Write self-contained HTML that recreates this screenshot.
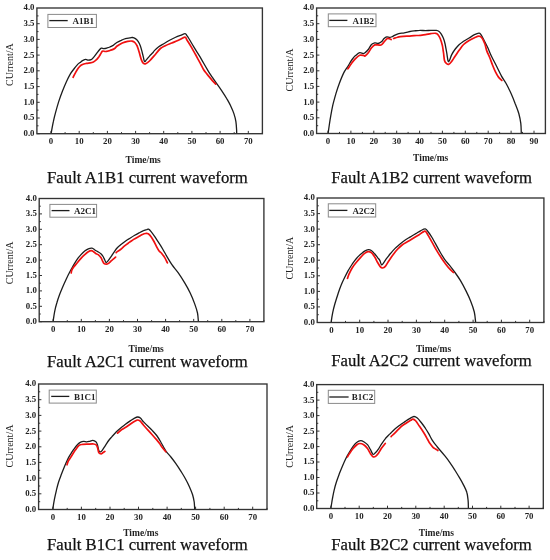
<!DOCTYPE html><html><head><meta charset="utf-8"><title>Fault current waveforms</title><style>
html,body{margin:0;padding:0;background:#fff;width:550px;height:560px;overflow:hidden}
svg{display:block}
.tl{font-family:"Liberation Serif",serif;font-weight:bold;font-size:8.8px;fill:#222}
.ax{stroke:#333;stroke-width:1.35;fill:none}
.tk{stroke:#333;stroke-width:1;fill:none}
.bk{stroke:#1c1c1c;stroke-width:1.3;fill:none;stroke-linejoin:round;stroke-linecap:round}
.rd{stroke:#f01010;stroke-width:1.7;fill:none;stroke-linejoin:round;stroke-linecap:round}
.cap{font-family:"Liberation Serif",serif;font-size:16.7px;fill:#111;stroke:#111;stroke-width:0.25px}
.xl{font-family:"Liberation Serif",serif;font-weight:bold;font-size:9.5px;fill:#222}
.yl{font-family:"Liberation Serif",serif;font-size:10px;fill:#222}
.lg{font-family:"Liberation Serif",serif;font-weight:bold;font-size:9px;fill:#222}
</style></head><body>
<svg width="550" height="560" viewBox="0 0 550 560">
<path class="tk" d="M51 133.7V130.9M65.1 133.7V132.1M79.2 133.7V130.9M93.3 133.7V132.1M107.4 133.7V130.9M121.5 133.7V132.1M135.6 133.7V130.9M149.6 133.7V132.1M163.7 133.7V130.9M177.8 133.7V132.1M191.9 133.7V130.9M206 133.7V132.1M220.1 133.7V130.9M234.2 133.7V132.1M248.3 133.7V130.9M262.4 133.7V132.1M36.9 133.7H39.7M36.9 125.8H38.5M36.9 118H39.7M36.9 110.1H38.5M36.9 102.3H39.7M36.9 94.4H38.5M36.9 86.6H39.7M36.9 78.7H38.5M36.9 70.8H39.7M36.9 63H38.5M36.9 55.1H39.7M36.9 47.3H38.5M36.9 39.4H39.7M36.9 31.6H38.5M36.9 23.7H39.7M36.9 15.9H38.5"/>
<path class="bk" d="M51.1 133.4C51.5 131.4 52.6 124.9 53.4 121.4C54.1 117.9 54.7 115.6 55.6 112.3C56.5 109 57.6 105.1 58.7 101.6C59.9 98 61.2 94.3 62.5 91C63.8 87.7 65 84.7 66.3 81.9C67.6 79.1 68.8 76.5 70.1 74.3C71.4 72.1 72.6 70.7 73.9 69C75.2 67.3 76.7 65.5 77.7 64.4C78.7 63.3 79.2 63.2 80 62.6C80.8 62 81.5 61.2 82.5 60.7C83.5 60.2 84.7 59.5 85.7 59.4C86.7 59.3 87.4 60.2 88.3 60.2C89.2 60.2 90.1 60.2 91.1 59.7C92 59.2 93 58.1 94 56.9C95 55.7 96.4 53.8 97.2 52.7C98 51.6 98.4 51 99.1 50.2C99.8 49.4 100.5 48.4 101.3 48.1C102.1 47.8 103 48.6 103.9 48.6C104.8 48.6 105.7 48.4 106.7 48.1C107.7 47.8 108.8 47.5 109.9 47C111 46.5 111.9 46.1 113.1 45.4C114.2 44.6 115.4 43.4 116.8 42.5C118.2 41.6 119.8 40.9 121.2 40.3C122.7 39.6 124 39 125.5 38.6C127 38.2 128.7 38.1 129.9 37.9C131.1 37.7 131.7 37.4 132.6 37.5C133.5 37.6 134.5 38 135.4 38.6C136.3 39.2 137.3 40.2 138.1 41.4C138.9 42.6 139.7 44.1 140.3 45.7C140.9 47.3 141.4 49.2 141.9 51.2C142.4 53.2 143.1 56 143.5 57.7C143.9 59.4 144.1 61.1 144.6 61.5C145.1 61.9 145.5 60.8 146.3 59.9C147.1 59 148.4 57.3 149.5 56.1C150.6 54.9 152 53.7 152.8 52.8C153.6 51.9 153.4 51.6 154.4 50.6C155.4 49.6 157.1 48 158.7 46.8C160.3 45.6 162.4 44.6 164.2 43.5C166 42.4 167.8 41.3 169.6 40.3C171.4 39.3 173.3 38.3 175.1 37.5C176.9 36.7 178.8 36 180.5 35.4C182.2 34.8 184 33.6 185.1 33.7C186.2 33.8 186 34.4 187.1 35.9C188.2 37.4 190.1 40.6 191.5 43C192.9 45.4 194.4 47.7 195.8 50.1C197.2 52.5 198.8 54.8 200.2 57.2C201.6 59.6 203 62.1 204.4 64.5C205.8 66.9 207.1 69.2 208.4 71.4C209.7 73.6 211 75.3 212.4 77.4C213.8 79.5 215.5 81.9 217.1 84.1C218.7 86.3 220.2 88.4 221.8 90.8C223.4 93.2 225.1 95.7 226.5 98.2C227.9 100.7 229.3 103 230.5 105.6C231.7 108.2 233 110.9 233.9 113.6C234.8 116.3 235.5 119 235.9 121.7C236.3 124.4 236.5 127.7 236.6 129.7C236.7 131.6 236.7 132.8 236.7 133.4"/>
<path class="rd" d="M73.1 77.3C73.5 76.5 74.6 74.2 75.4 72.8C76.2 71.4 76.9 70.1 77.7 69C78.5 67.9 79.2 66.8 80 66.1C80.8 65.3 81.4 65 82.5 64.5C83.6 64 85.1 63.7 86.4 63.4C87.7 63.1 89 63.1 90.2 62.9C91.4 62.7 92.4 62.5 93.4 62C94.5 61.5 95.5 60.6 96.5 59.7C97.5 58.8 98.3 57.5 99.1 56.5C99.8 55.5 100.4 54.3 101 53.4C101.6 52.5 101.8 51.4 102.6 51.1C103.3 50.8 104.5 51.5 105.5 51.5C106.5 51.5 107.5 51.2 108.6 50.9C109.6 50.6 110.7 50.3 111.8 49.9C112.9 49.5 114.2 48.9 115 48.3C115.8 47.7 115.6 47.2 116.8 46.3C118 45.4 120.5 43.8 122.3 43C124.1 42.2 126.1 41.7 127.7 41.4C129.3 41.1 130.9 40.9 132.1 41.1C133.3 41.3 134 41.7 134.8 42.5C135.6 43.3 136.3 44.1 137 45.7C137.7 47.3 138.5 49.9 139.2 52.3C139.9 54.7 140.7 58 141.4 59.9C142.1 61.8 142.8 62.8 143.5 63.4C144.2 64 144.7 64.1 145.7 63.7C146.7 63.3 148.1 62.4 149.5 61C150.9 59.6 152.6 57.6 154.4 55.5C156.2 53.4 158.6 50.1 160.4 48.5C162.2 46.9 163.4 46.6 165.3 45.7C167.2 44.8 169.6 43.9 171.8 43C174 42.1 176.2 41.3 178.4 40.3C180.6 39.3 183.5 37.2 184.9 37.2C186.3 37.2 186 38.6 187.1 40.3C188.2 42 190.1 44.9 191.5 47.4C192.9 49.9 194.4 52.4 195.8 55C197.2 57.6 198.9 60.8 200.2 63.2C201.5 65.6 202.4 67.8 203.5 69.5C204.6 71.2 205.5 72.2 206.5 73.5C207.5 74.8 208.6 76.1 209.7 77.4C210.8 78.7 212.1 80.3 213.1 81.4C214.1 82.5 215.4 83.6 215.8 84.1"/>
<rect class="ax" x="36.9" y="8" width="225.5" height="125.7"/>
<text class="tl" x="51" y="143.7" text-anchor="middle">0</text>
<text class="tl" x="79.2" y="143.7" text-anchor="middle">10</text>
<text class="tl" x="107.4" y="143.7" text-anchor="middle">20</text>
<text class="tl" x="135.6" y="143.7" text-anchor="middle">30</text>
<text class="tl" x="163.7" y="143.7" text-anchor="middle">40</text>
<text class="tl" x="191.9" y="143.7" text-anchor="middle">50</text>
<text class="tl" x="220.1" y="143.7" text-anchor="middle">60</text>
<text class="tl" x="248.3" y="143.7" text-anchor="middle">70</text>
<text class="tl" x="34.5" y="136.1" text-anchor="end">0.0</text>
<text class="tl" x="34.5" y="120.4" text-anchor="end">0.5</text>
<text class="tl" x="34.5" y="104.7" text-anchor="end">1.0</text>
<text class="tl" x="34.5" y="89" text-anchor="end">1.5</text>
<text class="tl" x="34.5" y="73.2" text-anchor="end">2.0</text>
<text class="tl" x="34.5" y="57.5" text-anchor="end">2.5</text>
<text class="tl" x="34.5" y="41.8" text-anchor="end">3.0</text>
<text class="tl" x="34.5" y="26.1" text-anchor="end">3.5</text>
<text class="tl" x="34.5" y="10.4" text-anchor="end">4.0</text>
<text class="xl" x="143.2" y="162.8" text-anchor="middle">Time/ms</text>
<text class="yl" transform="translate(12.9 64.6) rotate(-90)" text-anchor="middle">CUrrent/A</text>
<rect x="47.9" y="14.4" width="48.5" height="13.1" fill="#fff" stroke="#8a8a8a" stroke-width="1"/>
<path d="M49.3 20.6H67.7" stroke="#1c1c1c" stroke-width="1.3"/>
<text class="lg" x="72.5" y="24">A1B1</text>
<text class="cap" x="47.1" y="182.8">Fault A1B1 current waveform</text>
<path class="tk" d="M328 133.5V130.7M339.5 133.5V131.9M350.9 133.5V130.7M362.4 133.5V131.9M373.8 133.5V130.7M385.2 133.5V131.9M396.7 133.5V130.7M408.1 133.5V131.9M419.6 133.5V130.7M431 133.5V131.9M442.4 133.5V130.7M453.9 133.5V131.9M465.3 133.5V130.7M476.8 133.5V131.9M488.2 133.5V130.7M499.6 133.5V131.9M511.1 133.5V130.7M522.5 133.5V131.9M534 133.5V130.7M545.4 133.5V131.9M316.6 133.5H319.4M316.6 125.7H318.2M316.6 117.8H319.4M316.6 110H318.2M316.6 102.1H319.4M316.6 94.3H318.2M316.6 86.4H319.4M316.6 78.6H318.2M316.6 70.8H319.4M316.6 62.9H318.2M316.6 55.1H319.4M316.6 47.2H318.2M316.6 39.4H319.4M316.6 31.5H318.2M316.6 23.7H319.4M316.6 15.8H318.2"/>
<path class="bk" d="M328.1 133.3C328.4 131 329.4 124.2 330.1 119.7C330.9 115.2 331.6 110.5 332.6 106.1C333.6 101.7 334.9 97.2 336 93.4C337.1 89.6 338.1 86.6 339.4 83.2C340.7 79.8 342.2 75.9 343.6 73.1C345 70.3 346.5 68.6 347.9 66.3C349.3 64 350.8 61.3 352.1 59.5C353.4 57.7 354.2 56.7 355.5 55.6C356.8 54.5 358.4 53 359.7 52.7C361 52.4 362.2 53.6 363.1 53.6C364 53.6 364.1 53.4 365 52.7C365.9 52 367.2 50.9 368.3 49.5C369.4 48.1 370.4 45.6 371.5 44.5C372.6 43.4 373.7 43.1 374.8 42.9C375.9 42.7 377 43.7 378.1 43.5C379.2 43.3 380.4 42.6 381.4 41.8C382.4 41 383.2 39.3 384.1 38.5C385 37.7 385.9 37.1 386.8 36.9C387.7 36.7 388.6 37.5 389.5 37.5C390.4 37.5 391.4 37 392.3 36.6C393.2 36.2 393.9 35.6 395 35.1C396.1 34.6 397.2 34 398.8 33.6C400.4 33.2 402.7 33.2 404.3 32.9C405.9 32.6 407 32.1 408.6 31.8C410.2 31.5 412.3 31.1 414.1 30.9C415.9 30.7 417.6 30.4 419.5 30.4C421.4 30.3 423.6 30.6 425.5 30.6C427.4 30.6 429.1 30.4 430.9 30.4C432.7 30.4 435 30.2 436.4 30.4C437.8 30.6 438.3 30.9 439.1 31.5C439.9 32.1 440.6 33 441.3 34.2C442 35.4 442.9 36.9 443.5 38.5C444.1 40.1 444.6 41.6 445.1 44C445.6 46.4 446.2 49.9 446.7 52.7C447.2 55.5 447.6 59.6 448.1 60.9C448.6 62.2 448.9 61.4 449.5 60.4C450.1 59.4 450.7 56.7 451.6 54.9C452.5 53.1 453.6 51.2 454.9 49.5C456.2 47.8 457.9 45.9 459.3 44.5C460.8 43.1 462 42.4 463.6 41.3C465.2 40.2 467.3 39.1 469.1 38C470.9 36.9 472.9 35.5 474.5 34.7C476.1 33.9 477.8 33.2 478.9 33.1C479.9 33 480 33.3 480.8 34.4C481.6 35.5 482.7 37.6 483.8 39.8C484.9 42 486.4 44.8 487.7 47.6C489 50.4 490.1 53.4 491.6 56.5C493.1 59.6 495 63 496.6 66.3C498.2 69.6 499.9 73.1 501.5 76.1C503.1 79 504.8 81 506.4 84C508 87 509.8 90.6 511.3 93.9C512.8 97.2 514 100.4 515.2 103.7C516.5 107 517.9 110.2 518.8 113.5C519.7 116.8 520.4 120.1 520.8 123.4C521.2 126.7 521.2 131.7 521.3 133.3"/>
<path class="rd" d="M347.9 68.8C348.5 68 350 65.4 351.3 63.7C352.6 62 354.1 60 355.5 58.6C356.9 57.2 358.3 55.8 359.7 55.3C361.1 54.8 363.1 55.5 364 55.6C364.9 55.7 364.3 56.5 365 56C365.7 55.5 367.2 54.1 368.3 52.7C369.4 51.3 370.4 49.1 371.5 47.8C372.6 46.5 373.5 45.3 374.8 44.9C376.1 44.5 378.1 45.1 379.2 45.1C380.3 45.1 380.5 45.5 381.4 44.9C382.3 44.3 383.6 42.4 384.6 41.3C385.6 40.2 386.6 38.9 387.4 38.5C388.2 38.1 388.9 38.6 389.5 38.8C390.1 39 390.9 39.5 391.2 39.6"/>
<path class="rd" d="M393.6 38.5C394.3 38.3 396.1 37.6 397.7 37.2C399.3 36.9 401.4 36.6 403.2 36.4C405 36.2 406.8 36.2 408.6 36.1C410.4 36 412.3 35.7 414.1 35.6C415.9 35.5 417.6 35.5 419.5 35.4C421.4 35.2 423.6 35 425.5 34.7C427.4 34.4 429.2 33.8 430.9 33.6C432.6 33.4 434.6 33.1 435.8 33.3C437 33.5 437.3 33.8 438 34.7C438.7 35.6 439.5 36.7 440.2 38.5C440.9 40.3 441.8 43.2 442.4 45.6C442.9 48 443.1 50.2 443.5 52.7C443.9 55.2 444 58.6 444.5 60.4C445 62.2 446 63 446.7 63.6C447.4 64.2 448.1 64.5 448.9 64.2C449.7 63.9 450.6 62.8 451.6 61.5C452.6 60.2 453.6 58.4 454.9 56.5C456.2 54.6 457.9 52 459.3 50C460.8 48 462 46.1 463.6 44.5C465.2 42.9 467.3 41.6 469.1 40.5C470.9 39.4 472.9 38.5 474.5 37.8C476.1 37.1 477.7 36.2 478.9 36.2C480.1 36.2 480.8 36.5 481.8 37.8C482.8 39 484 41.6 484.8 43.7C485.6 45.8 485.9 48.3 486.7 50.6C487.5 52.9 488.7 55 489.7 57.5C490.7 60 491.6 62.8 492.6 65.3C493.6 67.8 494.6 70.2 495.6 72.2C496.6 74.2 497.4 75.7 498.5 77.1C499.6 78.5 501.3 79.9 501.9 80.5"/>
<rect class="ax" x="316.6" y="8" width="228.8" height="125.5"/>
<text class="tl" x="328" y="143.5" text-anchor="middle">0</text>
<text class="tl" x="350.9" y="143.5" text-anchor="middle">10</text>
<text class="tl" x="373.8" y="143.5" text-anchor="middle">20</text>
<text class="tl" x="396.7" y="143.5" text-anchor="middle">30</text>
<text class="tl" x="419.6" y="143.5" text-anchor="middle">40</text>
<text class="tl" x="442.4" y="143.5" text-anchor="middle">50</text>
<text class="tl" x="465.3" y="143.5" text-anchor="middle">60</text>
<text class="tl" x="488.2" y="143.5" text-anchor="middle">70</text>
<text class="tl" x="511.1" y="143.5" text-anchor="middle">80</text>
<text class="tl" x="534" y="143.5" text-anchor="middle">90</text>
<text class="tl" x="314.2" y="135.9" text-anchor="end">0.0</text>
<text class="tl" x="314.2" y="120.2" text-anchor="end">0.5</text>
<text class="tl" x="314.2" y="104.5" text-anchor="end">1.0</text>
<text class="tl" x="314.2" y="88.8" text-anchor="end">1.5</text>
<text class="tl" x="314.2" y="73.2" text-anchor="end">2.0</text>
<text class="tl" x="314.2" y="57.5" text-anchor="end">2.5</text>
<text class="tl" x="314.2" y="41.8" text-anchor="end">3.0</text>
<text class="tl" x="314.2" y="26.1" text-anchor="end">3.5</text>
<text class="tl" x="314.2" y="10.4" text-anchor="end">4.0</text>
<text class="xl" x="430.7" y="160.5" text-anchor="middle">Time/ms</text>
<text class="yl" transform="translate(293.3 70) rotate(-90)" text-anchor="middle">CUrrent/A</text>
<rect x="328.3" y="13.9" width="47.7" height="12.8" fill="#fff" stroke="#8a8a8a" stroke-width="1"/>
<path d="M329.3 20.4H347.4" stroke="#1c1c1c" stroke-width="1.3"/>
<text class="lg" x="352.5" y="23.8">A1B2</text>
<text class="cap" x="331.3" y="182.5">Fault A1B2 current waveform</text>
<path class="tk" d="M53.2 321.7V318.9M67.3 321.7V320.1M81.3 321.7V318.9M95.4 321.7V320.1M109.4 321.7V318.9M123.5 321.7V320.1M137.5 321.7V318.9M151.6 321.7V320.1M165.6 321.7V318.9M179.6 321.7V320.1M193.7 321.7V318.9M207.7 321.7V320.1M221.8 321.7V318.9M235.8 321.7V320.1M249.9 321.7V318.9M263.9 321.7V320.1M39.2 321.7H42M39.2 314H40.8M39.2 306.3H42M39.2 298.6H40.8M39.2 290.9H42M39.2 283.2H40.8M39.2 275.5H42M39.2 267.8H40.8M39.2 260.1H42M39.2 252.4H40.8M39.2 244.7H42M39.2 237H40.8M39.2 229.3H42M39.2 221.6H40.8M39.2 213.9H42M39.2 206.2H40.8"/>
<path class="bk" d="M53.1 321.4C53.4 319.8 54 314.9 54.6 311.8C55.2 308.7 55.9 305.9 56.8 303C57.6 300.1 58.7 297 59.7 294.3C60.7 291.6 61.6 289.5 62.7 286.9C63.8 284.3 65.1 281.5 66.3 278.9C67.5 276.3 68.8 273.8 70 271.5C71.2 269.2 72.5 267 73.7 264.9C74.9 262.8 76.1 260.8 77.3 259.1C78.5 257.4 79.8 256.1 81 254.7C82.2 253.3 83.5 252 84.7 251C85.9 250 87.1 249.3 88.3 248.8C89.5 248.3 90.9 247.9 92 248.1C93.1 248.3 94 249.4 94.9 250C95.8 250.6 96.6 251 97.6 251.6C98.6 252.2 100 253 100.9 253.8C101.8 254.6 102.5 255.5 103.1 256.5C103.7 257.5 104.2 258.8 104.7 259.8C105.2 260.8 105.5 262.3 106.1 262.5C106.6 262.7 107.2 261.8 108 260.9C108.8 260 109.7 258.6 110.7 257.1C111.7 255.7 112.9 253.8 114 252.2C115.1 250.6 116 249.2 117.3 247.8C118.6 246.4 120.1 245.2 121.6 244C123 242.8 124.5 241.7 126 240.7C127.5 239.7 129 238.9 130.4 238C131.8 237.1 133.2 236.2 134.7 235.3C136.1 234.5 137.6 233.7 139.1 232.9C140.6 232.1 142.2 231.2 143.5 230.7C144.8 230.1 145.9 229.8 146.7 229.6C147.5 229.3 147.8 228.9 148.5 229.2C149.2 229.5 149.9 230.1 150.9 231.3C151.9 232.5 153.4 234.6 154.6 236.4C155.8 238.2 156.8 239.8 158.2 241.9C159.6 244 161.3 246.6 162.8 249.2C164.3 251.8 165.9 254.8 167.4 257.4C168.9 260 170.1 262.1 171.9 264.7C173.7 267.3 176.2 269.9 178.3 272.9C180.4 275.9 182.7 279.5 184.7 282.9C186.7 286.2 188.5 289.5 190.2 293C191.9 296.5 193.5 300.6 194.7 303.9C195.9 307.2 196.9 310.1 197.5 313C198.1 315.9 198.2 320 198.4 321.4"/>
<path class="rd" d="M71.2 273C71.3 272.5 71.4 271.1 71.8 270.1C72.2 269.1 72.8 268.3 73.7 267.1C74.6 265.9 76.1 264.2 77.3 262.7C78.5 261.2 79.8 259.6 81 258.3C82.2 257 83.5 255.8 84.7 254.7C85.9 253.6 87.2 252.4 88.3 251.7C89.4 251 90.4 250.6 91.3 250.6C92.2 250.6 92.8 251.2 93.5 251.7C94.2 252.2 94.9 253 95.7 253.5C96.5 254 97.3 254 98.2 254.7C99.1 255.4 100.2 256.6 100.9 257.6C101.6 258.6 102 259.9 102.5 260.9C103 261.9 103.5 263.1 104.2 263.6C104.9 264.2 105.7 264.2 106.4 264.2C107.1 264.2 107.6 264 108.5 263.4C109.4 262.8 110.6 261.4 111.8 260.4C113 259.3 115 257.7 115.6 257.1"/>
<path class="rd" d="M116.2 252.7C116.4 252.5 116.6 252.1 117.3 251.6C118 251.1 119.2 250.5 120.5 249.5C121.8 248.5 123.4 246.8 124.9 245.6C126.4 244.4 127.9 243.4 129.3 242.4C130.8 241.4 132.2 240.3 133.6 239.4C135 238.5 136.5 237.7 138 236.9C139.5 236.1 141.1 235.1 142.4 234.5C143.7 233.9 144.6 233.6 145.6 233.5C146.6 233.4 147.3 233.2 148.2 233.7C149.1 234.2 150 235.2 150.9 236.4C151.8 237.6 152.8 239.3 153.7 241C154.6 242.7 155.5 244.7 156.4 246.4C157.3 248.1 158.2 249.8 159.1 251C160 252.2 161 252.6 161.9 253.7C162.8 254.8 163.7 255.9 164.6 257.4C165.5 258.9 166.9 262 167.4 262.9"/>
<rect class="ax" x="39.2" y="198.5" width="224.7" height="123.2"/>
<text class="tl" x="53.2" y="331.7" text-anchor="middle">0</text>
<text class="tl" x="81.3" y="331.7" text-anchor="middle">10</text>
<text class="tl" x="109.4" y="331.7" text-anchor="middle">20</text>
<text class="tl" x="137.5" y="331.7" text-anchor="middle">30</text>
<text class="tl" x="165.6" y="331.7" text-anchor="middle">40</text>
<text class="tl" x="193.7" y="331.7" text-anchor="middle">50</text>
<text class="tl" x="221.8" y="331.7" text-anchor="middle">60</text>
<text class="tl" x="249.9" y="331.7" text-anchor="middle">70</text>
<text class="tl" x="36.8" y="324.1" text-anchor="end">0.0</text>
<text class="tl" x="36.8" y="308.7" text-anchor="end">0.5</text>
<text class="tl" x="36.8" y="293.3" text-anchor="end">1.0</text>
<text class="tl" x="36.8" y="277.9" text-anchor="end">1.5</text>
<text class="tl" x="36.8" y="262.5" text-anchor="end">2.0</text>
<text class="tl" x="36.8" y="247.1" text-anchor="end">2.5</text>
<text class="tl" x="36.8" y="231.7" text-anchor="end">3.0</text>
<text class="tl" x="36.8" y="216.3" text-anchor="end">3.5</text>
<text class="tl" x="36.8" y="200.9" text-anchor="end">4.0</text>
<text class="xl" x="146.2" y="351.7" text-anchor="middle">Time/ms</text>
<text class="yl" transform="translate(13.4 262.9) rotate(-90)" text-anchor="middle">CUrrent/A</text>
<rect x="49.9" y="204.4" width="46.7" height="12.8" fill="#fff" stroke="#8a8a8a" stroke-width="1"/>
<path d="M51.6 210.6H69.5" stroke="#1c1c1c" stroke-width="1.3"/>
<text class="lg" x="74.1" y="214">A2C1</text>
<text class="cap" x="47.1" y="366.6">Fault A2C1 current waveform</text>
<path class="tk" d="M331.4 322.5V319.7M345.5 322.5V320.9M359.7 322.5V319.7M373.9 322.5V320.9M388 322.5V319.7M402.2 322.5V320.9M416.4 322.5V319.7M430.5 322.5V320.9M444.7 322.5V319.7M458.9 322.5V320.9M473.1 322.5V319.7M487.2 322.5V320.9M501.4 322.5V319.7M515.6 322.5V320.9M529.7 322.5V319.7M543.9 322.5V320.9M317.2 322.5H320M317.2 314.7H318.8M317.2 306.9H320M317.2 299.2H318.8M317.2 291.4H320M317.2 283.6H318.8M317.2 275.8H320M317.2 268H318.8M317.2 260.2H320M317.2 252.5H318.8M317.2 244.7H320M317.2 236.9H318.8M317.2 229.1H320M317.2 221.3H318.8M317.2 213.6H320M317.2 205.8H318.8"/>
<path class="bk" d="M331.2 322C331.4 320.4 332.1 315.7 332.7 312.7C333.3 309.7 334 306.9 334.9 303.8C335.8 300.7 336.9 297.2 337.9 294.2C338.9 291.2 339.7 288.7 340.8 286C341.9 283.3 343.2 280.4 344.5 277.8C345.8 275.2 347.1 272.6 348.3 270.4C349.6 268.2 350.6 266.5 352 264.5C353.4 262.5 354.9 260.2 356.4 258.5C357.9 256.8 359.5 255.3 360.9 254.1C362.3 252.9 363.4 251.8 364.6 251.1C365.8 250.4 367.2 249.8 368.3 249.7C369.4 249.6 370.2 249.8 371.3 250.5C372.4 251.2 373.6 252.6 374.6 253.8C375.7 255 376.7 256.5 377.6 257.6C378.5 258.7 379.2 259.2 379.8 260.4C380.4 261.6 380.9 264.2 381.5 264.7C382.1 265.2 382.3 264.6 383.1 263.6C383.9 262.6 385.1 260.4 386.4 258.7C387.7 257 389.2 255 390.7 253.3C392.1 251.6 393.6 249.9 395.1 248.4C396.6 246.9 397.9 245.9 399.5 244.5C401.1 243.1 403.1 241.5 404.9 240.2C406.7 238.9 408.6 238 410.4 236.9C412.2 235.8 414.1 234.6 415.8 233.6C417.5 232.6 418.9 231.6 420.5 230.8C422.1 230 424 228.7 425.3 228.9C426.6 229.1 427.2 230.6 428.3 232C429.4 233.4 430.8 235.5 432 237.5C433.2 239.5 434.2 241.5 435.6 243.9C437 246.3 438.7 249.6 440.2 252.2C441.7 254.8 443.3 257.5 444.8 259.6C446.3 261.8 447.7 263 449.4 265.1C451.1 267.2 453.1 269.9 455 272.5C456.9 275.1 458.7 277.6 460.5 280.7C462.3 283.8 464.3 287.5 466 290.9C467.7 294.3 469.2 297.5 470.6 301C472 304.5 473.5 308.5 474.3 312C475.1 315.5 475.4 320.3 475.6 322"/>
<path class="rd" d="M347.5 278.3C347.8 277.6 348.2 275.8 349 274.1C349.8 272.4 350.8 270.2 352 268.2C353.2 266.2 354.9 264.1 356.4 262.3C357.9 260.5 359.5 258.6 360.9 257.1C362.3 255.6 363.4 254.3 364.6 253.4C365.8 252.5 366.9 251.7 368 251.6C369.1 251.5 370.2 251.7 371.3 252.6C372.4 253.5 373.6 255.2 374.6 256.8C375.7 258.4 376.6 260.8 377.6 262.5C378.6 264.2 379.6 266 380.4 266.9C381.2 267.8 381.7 268.1 382.5 268C383.3 267.9 384.2 267.7 385.3 266.4C386.4 265.1 387.8 262.3 389.1 260.4C390.4 258.5 391.5 256.7 392.9 254.9C394.3 253.1 395.7 251.2 397.3 249.5C398.9 247.8 400.9 245.9 402.7 244.5C404.5 243.1 406.4 242.4 408.2 241.3C410 240.2 411.8 239.1 413.6 238C415.4 236.9 417.6 235.6 419.1 234.7C420.6 233.8 421.4 232.9 422.5 232.3C423.6 231.7 424.4 230.6 425.4 231.2C426.4 231.8 427.2 233.8 428.3 235.6C429.4 237.4 430.6 239.6 432 242.1C433.4 244.6 435.1 247.8 436.6 250.4C438.1 253 439.7 255.4 441.2 257.7C442.7 260 444.3 262.2 445.8 264.2C447.3 266.2 449.1 268.3 450.4 269.7C451.7 271.1 453 272 453.5 272.5"/>
<rect class="ax" x="317.2" y="198" width="226.7" height="124.5"/>
<text class="tl" x="331.4" y="332.5" text-anchor="middle">0</text>
<text class="tl" x="359.7" y="332.5" text-anchor="middle">10</text>
<text class="tl" x="388" y="332.5" text-anchor="middle">20</text>
<text class="tl" x="416.4" y="332.5" text-anchor="middle">30</text>
<text class="tl" x="444.7" y="332.5" text-anchor="middle">40</text>
<text class="tl" x="473.1" y="332.5" text-anchor="middle">50</text>
<text class="tl" x="501.4" y="332.5" text-anchor="middle">60</text>
<text class="tl" x="529.7" y="332.5" text-anchor="middle">70</text>
<text class="tl" x="314.8" y="324.9" text-anchor="end">0.0</text>
<text class="tl" x="314.8" y="309.3" text-anchor="end">0.5</text>
<text class="tl" x="314.8" y="293.8" text-anchor="end">1.0</text>
<text class="tl" x="314.8" y="278.2" text-anchor="end">1.5</text>
<text class="tl" x="314.8" y="262.6" text-anchor="end">2.0</text>
<text class="tl" x="314.8" y="247.1" text-anchor="end">2.5</text>
<text class="tl" x="314.8" y="231.5" text-anchor="end">3.0</text>
<text class="tl" x="314.8" y="216" text-anchor="end">3.5</text>
<text class="tl" x="314.8" y="200.4" text-anchor="end">4.0</text>
<text class="xl" x="433.5" y="351.5" text-anchor="middle">Time/ms</text>
<text class="yl" transform="translate(293.4 258.2) rotate(-90)" text-anchor="middle">CUrrent/A</text>
<rect x="328.3" y="203.8" width="47.4" height="13.2" fill="#fff" stroke="#8a8a8a" stroke-width="1"/>
<path d="M329.3 210.4H347.4" stroke="#1c1c1c" stroke-width="1.3"/>
<text class="lg" x="352.5" y="213.8">A2C2</text>
<text class="cap" x="331.2" y="366.4">Fault A2C2 current waveform</text>
<path class="tk" d="M52.9 509.5V506.7M67.2 509.5V507.9M81.4 509.5V506.7M95.7 509.5V507.9M110 509.5V506.7M124.2 509.5V507.9M138.5 509.5V506.7M152.8 509.5V507.9M167.1 509.5V506.7M181.3 509.5V507.9M195.6 509.5V506.7M209.9 509.5V507.9M224.2 509.5V506.7M238.4 509.5V507.9M252.7 509.5V506.7M267 509.5V507.9M38.6 509.5H41.4M38.6 501.7H40.2M38.6 493.8H41.4M38.6 486H40.2M38.6 478.1H41.4M38.6 470.3H40.2M38.6 462.4H41.4M38.6 454.6H40.2M38.6 446.8H41.4M38.6 438.9H40.2M38.6 431.1H41.4M38.6 423.2H40.2M38.6 415.4H41.4M38.6 407.5H40.2M38.6 399.7H41.4M38.6 391.8H40.2"/>
<path class="bk" d="M52.9 508.8C53.1 507.2 53.8 502.5 54.4 499.4C55 496.3 55.7 493.2 56.4 490.3C57.1 487.4 57.7 484.8 58.6 482C59.5 479.2 60.7 476.3 61.7 473.6C62.7 470.9 63.7 468.4 64.7 466C65.7 463.6 66.7 461.2 67.7 459.2C68.7 457.2 69.8 455.5 70.8 453.9C71.8 452.2 72.7 450.9 73.8 449.3C74.9 447.7 76.4 445.7 77.6 444.5C78.8 443.3 79.7 442.7 80.7 442.2C81.7 441.7 82.7 441.5 83.7 441.4C84.7 441.3 85.7 441.8 86.7 441.8C87.7 441.8 88.8 441.5 89.8 441.3C90.8 441.1 91.8 440.3 92.8 440.4C93.8 440.5 95.1 441.1 95.9 441.8C96.7 442.5 96.9 443.2 97.4 444.7C97.9 446.2 98.4 449.6 98.9 450.8C99.4 452 99.9 451.9 100.4 451.8C101 451.7 101.4 451.4 102.2 450.3C103 449.2 104.4 447 105.5 445.4C106.6 443.8 107.6 442 108.7 440.5C109.8 439 110.7 438.1 112 436.6C113.3 435.1 115 433.1 116.4 431.7C117.9 430.2 119.2 429.1 120.7 427.9C122.2 426.7 123.6 425.7 125.1 424.6C126.6 423.5 128.1 422.4 129.5 421.4C130.9 420.4 132.5 419.3 133.8 418.6C135.2 417.9 136.5 417.1 137.6 417C138.7 416.9 139.4 417.3 140.4 418.1C141.4 418.9 142.3 420.5 143.6 421.9C144.9 423.3 146.5 424.9 148 426.3C149.5 427.8 151 429.1 152.4 430.6C153.8 432.1 155.3 433.7 156.7 435.5C158 437.3 159.4 439.6 160.5 441.5C161.6 443.4 162.6 445.4 163.5 447C164.4 448.6 164.9 449.7 166.1 451.4C167.3 453.1 169.3 455 170.9 457C172.5 459 174.1 461.1 175.7 463.4C177.3 465.7 178.9 468.1 180.5 470.6C182.1 473.2 183.9 476 185.4 478.7C186.9 481.4 188.2 484 189.4 486.7C190.6 489.4 191.8 492.2 192.6 494.8C193.4 497.4 193.8 499.6 194.2 502C194.5 504.4 194.6 507.8 194.7 509"/>
<path class="rd" d="M67 464.8C67.2 464.1 67.8 462.1 68.5 460.7C69.2 459.2 70.4 457.9 71.5 456.1C72.6 454.3 74 451.9 75.3 450.1C76.6 448.3 77.8 446.3 79.1 445.4C80.4 444.4 81.2 444.6 82.9 444.4C84.6 444.2 87.2 444.2 89 444.1C90.8 444 92.4 443.9 93.6 444C94.8 444.1 95.6 444.2 96.3 445C97 445.8 97.4 447.2 97.8 448.5C98.2 449.8 98.3 451.9 98.9 452.8C99.5 453.7 100.6 453.9 101.2 453.9C101.8 453.9 101.9 453.4 102.5 453C103.1 452.6 104.5 451.7 104.9 451.4"/>
<path class="rd" d="M117.5 433.1C118.2 432.5 120.2 430.6 121.8 429.5C123.4 428.4 125.5 427.5 127.3 426.3C129.1 425.1 131.1 423.5 132.7 422.5C134.3 421.5 135.9 420.4 137.1 420.1C138.3 419.8 138.7 420 139.8 420.8C140.9 421.6 142.2 423.6 143.6 425.2C145 426.8 146.5 428.5 148 430.1C149.5 431.7 151 433.4 152.4 435C153.8 436.6 155.4 438.4 156.7 439.9C158 441.4 159.1 442.8 160 444C160.9 445.2 161.1 446 162.1 447.3C163.1 448.6 165.2 451.1 165.8 451.8"/>
<rect class="ax" x="38.6" y="384" width="228.4" height="125.5"/>
<text class="tl" x="52.9" y="519.5" text-anchor="middle">0</text>
<text class="tl" x="81.4" y="519.5" text-anchor="middle">10</text>
<text class="tl" x="110" y="519.5" text-anchor="middle">20</text>
<text class="tl" x="138.5" y="519.5" text-anchor="middle">30</text>
<text class="tl" x="167.1" y="519.5" text-anchor="middle">40</text>
<text class="tl" x="195.6" y="519.5" text-anchor="middle">50</text>
<text class="tl" x="224.2" y="519.5" text-anchor="middle">60</text>
<text class="tl" x="252.7" y="519.5" text-anchor="middle">70</text>
<text class="tl" x="36.2" y="511.9" text-anchor="end">0.0</text>
<text class="tl" x="36.2" y="496.2" text-anchor="end">0.5</text>
<text class="tl" x="36.2" y="480.5" text-anchor="end">1.0</text>
<text class="tl" x="36.2" y="464.8" text-anchor="end">1.5</text>
<text class="tl" x="36.2" y="449.1" text-anchor="end">2.0</text>
<text class="tl" x="36.2" y="433.5" text-anchor="end">2.5</text>
<text class="tl" x="36.2" y="417.8" text-anchor="end">3.0</text>
<text class="tl" x="36.2" y="402.1" text-anchor="end">3.5</text>
<text class="tl" x="36.2" y="386.4" text-anchor="end">4.0</text>
<text class="xl" x="140.8" y="536" text-anchor="middle">Time/ms</text>
<text class="yl" transform="translate(13.4 446) rotate(-90)" text-anchor="middle">CUrrent/A</text>
<rect x="49.2" y="390.1" width="47.1" height="13" fill="#fff" stroke="#8a8a8a" stroke-width="1"/>
<path d="M51.2 396.4H69.3" stroke="#1c1c1c" stroke-width="1.3"/>
<text class="lg" x="74.1" y="399.8">B1C1</text>
<text class="cap" x="47.1" y="550.4">Fault B1C1 current waveform</text>
<path class="tk" d="M330.9 508.5V505.7M345 508.5V506.9M359.2 508.5V505.7M373.3 508.5V506.9M387.5 508.5V505.7M401.7 508.5V506.9M415.8 508.5V505.7M430 508.5V506.9M444.2 508.5V505.7M458.3 508.5V506.9M472.5 508.5V505.7M486.6 508.5V506.9M500.8 508.5V505.7M515 508.5V506.9M529.1 508.5V505.7M543.3 508.5V506.9M316.7 508.5H319.5M316.7 500.8H318.3M316.7 493H319.5M316.7 485.3H318.3M316.7 477.5H319.5M316.7 469.8H318.3M316.7 462H319.5M316.7 454.3H318.3M316.7 446.6H319.5M316.7 438.8H318.3M316.7 431.1H319.5M316.7 423.3H318.3M316.7 415.6H319.5M316.7 407.8H318.3M316.7 400.1H319.5M316.7 392.3H318.3"/>
<path class="bk" d="M330.8 508.4C331.1 506.9 331.8 502.4 332.3 499.4C332.9 496.4 333.4 493.2 334.1 490.3C334.8 487.4 335.5 484.8 336.4 482C337.3 479.2 338.4 476.3 339.4 473.6C340.4 470.9 341.5 468.4 342.5 466C343.5 463.6 344.4 461.5 345.5 459.2C346.6 456.9 348 454.4 349.3 452.3C350.6 450.2 351.8 448 353.1 446.3C354.4 444.6 355.6 443.1 356.9 442.2C358.2 441.2 359.6 440.7 360.7 440.6C361.8 440.5 362.6 441 363.7 441.7C364.8 442.4 366.4 443.4 367.5 444.7C368.6 446 369.4 447.7 370.3 449.3C371.2 450.9 372.1 453.6 372.9 454.2C373.7 454.8 374.2 453.9 375.1 453.1C376 452.3 377.4 450.7 378.4 449.2C379.4 447.7 380.1 446.1 381.3 444.3C382.5 442.5 384.2 440 385.6 438.3C387.1 436.6 388.5 435.4 390 433.9C391.5 432.4 392.8 430.9 394.4 429.5C396 428.1 398 426.6 399.8 425.2C401.6 423.8 403.7 422.5 405.3 421.4C406.9 420.3 408.2 419.4 409.6 418.6C411.1 417.8 412.7 416.6 414 416.5C415.3 416.4 416 417 417.3 418.1C418.6 419.2 420.2 421.3 421.6 423C423 424.7 424.3 426.7 425.5 428.5C426.7 430.3 427.6 431.7 428.7 433.6C429.8 435.5 430.9 438.1 432.2 440.1C433.5 442.1 434.9 444 436.3 445.7C437.7 447.4 438.8 448.8 440.3 450.5C441.8 452.2 443.5 454.2 445.1 456.2C446.7 458.2 448.3 460.3 449.9 462.6C451.5 464.9 453.1 467.2 454.7 469.8C456.3 472.4 458.1 475.3 459.6 477.9C461.1 480.4 462.4 482.7 463.6 485.1C464.8 487.5 466.1 489.8 466.8 492.3C467.6 494.9 467.8 497.7 468.1 500.4C468.4 503.1 468.3 507.1 468.4 508.4"/>
<path class="rd" d="M347.5 456.9C347.8 456.4 348.4 455.3 349.3 453.9C350.2 452.5 351.8 450 353.1 448.5C354.4 447 355.8 445.5 356.9 444.7C358 443.9 358.8 443.5 359.9 443.5C361 443.5 362.4 443.9 363.7 444.7C365 445.5 366.4 447 367.5 448.5C368.6 450 369.6 452.5 370.6 453.9C371.6 455.3 372.4 456.5 373.3 456.9C374.2 457.3 375 456.8 375.9 456.1C376.8 455.5 377.7 454.2 378.6 453C379.5 451.8 380.2 450.2 381.3 448.6C382.4 447 384.6 444.3 385.3 443.4"/>
<path class="rd" d="M391.1 436.6C391.8 435.9 393.9 433.9 395.5 432.3C397.1 430.7 399.1 428.4 400.9 426.8C402.7 425.2 404.8 424.1 406.4 423C408 421.9 409.6 420.9 410.7 420.3C411.8 419.7 412.1 419.1 412.9 419.2C413.7 419.3 414.5 419.6 415.6 420.8C416.7 422 418.1 424.3 419.5 426.3C420.9 428.3 422.5 430.7 423.8 432.8C425.1 434.9 426.2 436.9 427.2 438.7C428.2 440.4 428.8 441.9 429.8 443.3C430.8 444.7 432.1 446.4 433 447.3C433.9 448.2 434.7 448.5 435.5 449C436.3 449.5 437.5 450.2 437.9 450.5"/>
<rect class="ax" x="316.7" y="384.6" width="226.6" height="123.9"/>
<text class="tl" x="330.9" y="518.5" text-anchor="middle">0</text>
<text class="tl" x="359.2" y="518.5" text-anchor="middle">10</text>
<text class="tl" x="387.5" y="518.5" text-anchor="middle">20</text>
<text class="tl" x="415.8" y="518.5" text-anchor="middle">30</text>
<text class="tl" x="444.2" y="518.5" text-anchor="middle">40</text>
<text class="tl" x="472.5" y="518.5" text-anchor="middle">50</text>
<text class="tl" x="500.8" y="518.5" text-anchor="middle">60</text>
<text class="tl" x="529.1" y="518.5" text-anchor="middle">70</text>
<text class="tl" x="314.3" y="510.9" text-anchor="end">0.0</text>
<text class="tl" x="314.3" y="495.4" text-anchor="end">0.5</text>
<text class="tl" x="314.3" y="479.9" text-anchor="end">1.0</text>
<text class="tl" x="314.3" y="464.4" text-anchor="end">1.5</text>
<text class="tl" x="314.3" y="448.9" text-anchor="end">2.0</text>
<text class="tl" x="314.3" y="433.5" text-anchor="end">2.5</text>
<text class="tl" x="314.3" y="418" text-anchor="end">3.0</text>
<text class="tl" x="314.3" y="402.5" text-anchor="end">3.5</text>
<text class="tl" x="314.3" y="387" text-anchor="end">4.0</text>
<text class="xl" x="436.4" y="535.7" text-anchor="middle">Time/ms</text>
<text class="yl" transform="translate(293.4 446.4) rotate(-90)" text-anchor="middle">CUrrent/A</text>
<rect x="328.3" y="390.3" width="46.4" height="13.1" fill="#fff" stroke="#8a8a8a" stroke-width="1"/>
<path d="M329.3 397H348.6" stroke="#1c1c1c" stroke-width="1.3"/>
<text class="lg" x="351.8" y="400.4">B1C2</text>
<text class="cap" x="331.2" y="550.2">Fault B2C2 current waveform</text>
</svg></body></html>
